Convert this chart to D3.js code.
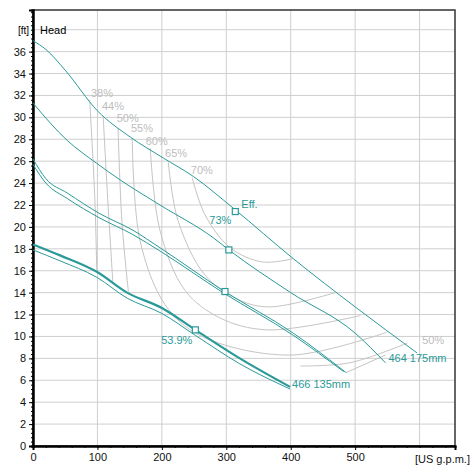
<!DOCTYPE html>
<html>
<head>
<meta charset="UTF-8"/>
<script src="https://d3js.org/d3.v7.min.js"></script>
<style>
  body { margin: 0; background: #fff; }
  text { font-family: "Liberation Sans", Arial, sans-serif; }
</style>
</head>
<body>
<svg id="chart" width="474" height="474"></svg>
<script>
// pump curves [gpm, ft]
const curveA = [[0,37.0],[20,36.2],[50,34.3],[100,30.6],[151,28.2],[202,26.3],[249,24.6],[311,21.7],[404,17.1],[500,12.7],[596,8.5]];
const curveB = [[0,31.3],[53,27.9],[99,25.8],[135,24.3],[197,22.0],[280,19.0],[304,17.9],[400,14.0],[500,10.3],[547,7.6]];
const curveC1 = [[0,26.2],[20,24.4],[53,23.1],[104,21.2],[155,19.7],[197,18.1],[295,14.2],[404,10.3],[486,6.7]];
const curveC2 = [[0,25.7],[20,24.0],[53,22.6],[104,20.8],[155,19.3],[197,17.8],[295,14.0],[404,10.1],[482,6.8]];
const curveD1 = [[0,18.4],[42,17.4],[99,15.9],[146,14.0],[200,12.6],[252,10.6],[321,8.0],[399,5.4]];
const curveD2 = [[0,17.9],[42,16.9],[99,15.4],[146,13.5],[200,12.1],[252,10.1],[321,7.5],[399,5.2]];

// efficiency contours [gpm, ft]
const eff38 = [[88,31.6],[96,22.5],[99,15.9]];
const eff44 = [[109,30.0],[116,22.5],[124,14.9]];
const eff50 = [[132,29.0],[138,20.5],[148,14.1]];
const eff50r = [[415,7.3],[492,7.6],[581,9.4]];
const eff44r = [[486,6.7],[547,8.3]];
const eff55 = [[154,28.1],[166,18.8],[205,12.9],[259,10.1],[399,8.3],[550,10.4]];
const eff60 = [[182,27.2],[197,19.7],[236,14.2],[290,11.7],[363,10.6],[508,11.9]];
const eff65 = [[210,25.9],[225,20.6],[267,15.6],[321,13.3],[368,12.7],[469,14.0]];
const eff70 = [[247,24.5],[267,21.1],[306,18.1],[356,16.8],[404,17.1]];

const effLabels = ["38%","44%","50%","55%","60%","65%","70%","50%"];
const effLabelPos = [[90,31.9],[107,30.7],[130,29.6],[152,28.7],[175,27.5],[205,26.4],[245,24.8],[604,9.3]];

// duty points
const dutyPoints = [[314,21.4],[304,17.9],[298,14.1],[252,10.6]];

const yTicks = d3.range(0, 37, 2);
const xTicks = [0,100,200,300,400,500];

const teal = "#2a9a98";
const svg = d3.select("#chart");
const L = 33, R = 455, T = 10, B = 446;
const x = d3.scaleLinear().domain([0,655]).range([L,R]);
const y = d3.scaleLinear().domain([0,39.8]).range([B,T]);

// grid
svg.append("g").selectAll("line").data(yTicks.filter(d => d > 0).concat([38])).join("line")
  .attr("x1", L).attr("x2", R).attr("y1", d => y(d)).attr("y2", d => y(d))
  .attr("stroke", "#cfcfcf");
svg.append("g").selectAll("line").data(xTicks.filter(d => d > 0).concat([600])).join("line")
  .attr("y1", T).attr("y2", B).attr("x1", d => x(d)).attr("x2", d => x(d))
  .attr("stroke", "#cfcfcf");

// border
svg.append("rect").attr("x", L).attr("y", T).attr("width", R-L).attr("height", B-T)
  .attr("fill", "none").attr("stroke", "#333").attr("stroke-width", 1.5);

// axes
svg.append("g").attr("transform", `translate(${L},0)`)
  .call(d3.axisLeft(y).tickValues(yTicks).tickSize(4).tickFormat(d3.format("d")));
svg.append("g").attr("transform", `translate(${L},0)`)
  .call(d3.axisLeft(y).tickValues(d3.range(0, 39.8, 0.4)).tickSize(2).tickFormat(""));
svg.append("g").attr("transform", `translate(0,${B})`)
  .call(d3.axisBottom(x).tickValues(xTicks).tickSize(4).tickFormat(d3.format("d")));
svg.append("g").attr("transform", `translate(0,${B})`)
  .call(d3.axisBottom(x).tickValues(d3.range(0, 655, 20)).tickSize(2).tickFormat(""));
svg.selectAll(".domain").attr("stroke", "#000").attr("stroke-width", 2);
svg.selectAll(".tick text").attr("font-size", 11).attr("fill", "#111");
svg.selectAll(".tick line").attr("stroke", "#000");

svg.append("text").attr("x", L-4).attr("y", y(38)+4).attr("text-anchor", "end")
  .attr("font-size", 10).text("[ft]");
svg.append("text").attr("x", L+7).attr("y", y(38)+4).attr("font-size", 11).text("Head");
svg.append("text").attr("x", 470).attr("y", B+17).attr("text-anchor", "end")
  .attr("font-size", 11).attr("fill", "#111").text("[US g.p.m.]");

const line = d3.line().x(d => x(d[0])).y(d => y(d[1])).curve(d3.curveCatmullRom);
const pumpLine = d3.line().x(d => x(d[0])).y(d => y(d[1])).curve(d3.curveMonotoneX);

// efficiency contours
[eff38, eff44, eff50, eff50r, eff44r, eff55, eff60, eff65, eff70].forEach(c => {
  svg.append("path").attr("d", line(c)).attr("fill", "none")
    .attr("stroke", "#c4c4c4").attr("stroke-width", 1);
});
svg.append("g").selectAll("text").data(effLabels).join("text")
  .attr("x", (d,i) => x(effLabelPos[i][0])).attr("y", (d,i) => y(effLabelPos[i][1]))
  .attr("font-size", 11).attr("fill", "#bdbdbd").text(d => d);

// pump curves
[[curveA,1],[curveB,1],[curveC1,1],[curveC2,1],[curveD1,2.2],[curveD2,1]].forEach(([c,w]) => {
  svg.append("path").attr("d", pumpLine(c)).attr("fill", "none")
    .attr("stroke", teal).attr("stroke-width", w);
});

// duty points
svg.append("g").selectAll("rect").data(dutyPoints).join("rect")
  .attr("x", d => x(d[0])-3).attr("y", d => y(d[1])-3).attr("width", 6).attr("height", 6)
  .attr("fill", "#fff").attr("stroke", teal).attr("stroke-width", 1.2);

svg.append("text").attr("x", x(314)+6).attr("y", y(21.4)-4).attr("font-size", 11)
  .attr("fill", teal).text("Eff.");
svg.append("text").attr("x", x(314)-4).attr("y", y(21.4)+12).attr("text-anchor", "end")
  .attr("font-size", 11).attr("fill", teal).text("73%");
svg.append("text").attr("x", x(252)-3).attr("y", y(10.6)+14).attr("text-anchor", "end")
  .attr("font-size", 11).attr("fill", teal).text("53.9%");
svg.append("text").attr("x", x(547)+3).attr("y", y(7.6)-1).attr("font-size", 11)
  .attr("fill", teal).text("464 175mm");
svg.append("text").attr("x", x(399)+2).attr("y", y(5.4)+1).attr("font-size", 11)
  .attr("fill", teal).text("466 135mm");
</script>
</body>
</html>
